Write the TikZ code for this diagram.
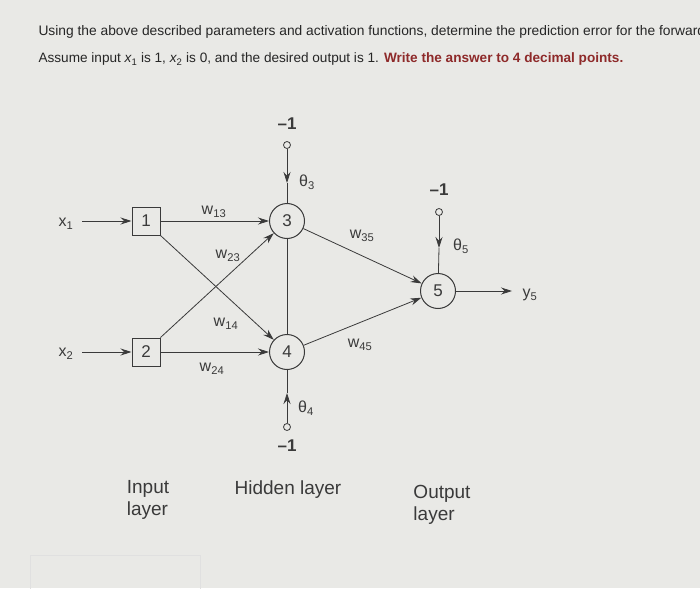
\documentclass[tikz,border=0pt]{standalone}
\usepackage{fontspec}
\setmainfont{Liberation Sans}
\usetikzlibrary{arrows.meta}
\definecolor{bg}{HTML}{E9E9E6}
\definecolor{ink}{HTML}{3A3A3A}
\definecolor{red1}{HTML}{8E2A2A}
\newcommand{\sbs}[2]{{#1}\textsubscript{#2}}
\begin{document}
\begin{tikzpicture}[x=1pt,y=-1pt,
  every node/.style={text=ink},
  inbox/.style={draw=ink,line width=1pt,minimum size=28pt,inner sep=0pt,font=\fontsize{17}{17}\selectfont},
  neuron/.style={draw=ink,line width=1pt,circle,minimum size=35pt,inner sep=0pt,font=\fontsize{17}{17}\selectfont},
  bias/.style={draw=ink,line width=0.8pt,circle,minimum size=7pt,inner sep=0pt},
  lab/.style={font=\fontsize{16}{16}\selectfont},
  conn/.style={draw=ink,line width=0.8pt,-{Stealth[length=11pt,width=7pt]}},
  plain/.style={draw=ink,line width=0.8pt},
  big/.style={font=\fontsize{19}{22}\selectfont,align=left}]
\fill[bg] (0,0) rectangle (700,588);
\clip (0,0) rectangle (700,588);
\draw[black!12] (30,555) rectangle (200,600);
\node[anchor=base west,font=\fontsize{13.8}{14}\selectfont,text=black!85] (t1) at (35,36) {Using the above described parameters and activation functions, determine the prediction error for the forward};
\node[anchor=base west,font=\fontsize{13.6}{14}\selectfont,text=black!85] (t2) at (35,63) {Assume input \sbs{\itshape x}{1} is 1, \sbs{\itshape x}{2} is 0, and the desired output is 1. \textcolor{red1}{\bfseries Write the answer to 4 decimal points.}};
\node[inbox] (n1) at (146,221) {1};
\node[inbox] (n2) at (146,352) {2};
\node[neuron] (n3) at (287,221) {3};
\node[neuron] (n4) at (287,352) {4};
\node[neuron] (n5) at (438,291) {5};
\node[lab] (x1) at (66,224) {\sbs{x}{1}};
\node[lab] (x2) at (66,354) {\sbs{x}{2}};
\coordinate (x1e) at (82,221);
\coordinate (x2e) at (82,352);
\draw[conn] (x1e) -- (n1);
\draw[conn] (x2e) -- (n2);
\draw[conn] (n1) -- (n3);
\draw[conn] (n2) -- (n4);
\draw[conn] (n1.south east) -- (n4);
\draw[conn] (n2.north east) -- (n3);
\draw[plain] (n3) -- (n4);
\draw[conn] (n3) -- (n5);
\draw[conn] (n4) -- (n5);
\coordinate (y5e) at (512,291);
\draw[conn] (n5) -- (y5e);
\node[lab] (y5) at (530,295) {\sbs{y}{5}};
% biases
\node[bias] (b3) at (287,145) {};
\node[font=\bfseries\fontsize{17}{17}\selectfont] (m3) at (287,124) {–1};
\coordinate (b3t) at (287,183);
\draw[conn] (b3) -- (b3t); \draw[plain] (b3t) -- (n3);
\node[lab] (th3) at (307,182) {\sbs{θ}{3}};
\node[bias] (b5) at (439,212) {};
\node[font=\bfseries\fontsize{17}{17}\selectfont] (m5) at (439,190) {–1};
\coordinate (b5t) at (439,248);
\draw[conn] (b5) -- (b5t); \draw[plain] (b5t) -- (n5);
\node[lab] (th5) at (461,246) {\sbs{θ}{5}};
\node[bias] (b4) at (287,427) {};
\node[font=\bfseries\fontsize{17}{17}\selectfont] (m4) at (287,446) {–1};
\coordinate (b4t) at (287,393);
\draw[conn] (b4) -- (b4t); \draw[plain] (b4t) -- (n4);
\node[lab] (th4) at (306,408) {\sbs{θ}{4}};
% weights
\node[lab] (w13) at (214,212) {\sbs{w}{13}};
\node[lab] (w23) at (228,256) {\sbs{w}{23}};
\node[lab] (w14) at (226,324) {\sbs{w}{14}};
\node[lab] (w24) at (212,369) {\sbs{w}{24}};
\node[lab] (w35) at (362,236) {\sbs{w}{35}};
\node[lab] (w45) at (360,345) {\sbs{w}{45}};
\node[big] (li) at (148,500) {Input\\layer};
\node[big] (lh) at (288,490) {Hidden layer};
\node[big] (lo) at (442,505) {Output\\layer};
\end{tikzpicture}
\end{document}
